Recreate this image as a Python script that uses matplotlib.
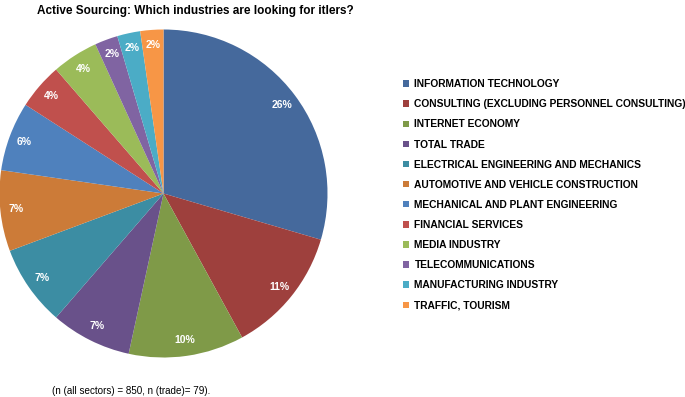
import matplotlib
matplotlib.use("Agg")
import matplotlib.pyplot as plt
import numpy as np

categories = [
    "INFORMATION TECHNOLOGY",
    "CONSULTING (EXCLUDING PERSONNEL CONSULTING)",
    "INTERNET ECONOMY",
    "TOTAL TRADE",
    "ELECTRICAL ENGINEERING AND MECHANICS",
    "AUTOMOTIVE AND VEHICLE CONSTRUCTION",
    "MECHANICAL AND PLANT ENGINEERING",
    "FINANCIAL SERVICES",
    "MEDIA INDUSTRY",
    "TELECOMMUNICATIONS",
    "MANUFACTURING INDUSTRY",
    "TRAFFIC, TOURISM",
]
values = [26, 11, 10, 7, 7, 7, 6, 4, 4, 2, 2, 2]
pct_labels = ["26%", "11%", "10%", "7%", "7%", "7%", "6%", "4%", "4%", "2%", "2%", "2%"]
colors = ["#45699C", "#9E403D", "#7F9A48", "#69518A", "#3C8DA3", "#CC7B38",
          "#4F81BD", "#C0504D", "#9BBB59", "#8064A2", "#4BACC6", "#F79646"]

title = "Active Sourcing: Which industries are looking for itlers?"
note = "(n (all sectors) = 850, n (trade)= 79)."

W, H = 685, 397
fig = plt.figure(figsize=(W / 100, H / 100), dpi=100)
fig.patch.set_facecolor("white")

cx, cy, r = 163.5, 193.5, 164
ax = fig.add_axes([(cx - r) / W, (H - cy - r) / H, 2 * r / W, 2 * r / H])
wedges, _ = ax.pie(values, colors=colors, startangle=90, counterclock=False,
                   radius=1, wedgeprops=dict(linewidth=0))
ax.set_xlim(-1, 1)
ax.set_ylim(-1, 1)
ax.set_aspect("equal")
ax.axis("off")

tot = sum(values)
ang = 90.0
for v, lab in zip(values, pct_labels):
    span = 360.0 * v / tot
    mid = np.deg2rad(ang - span / 2)
    ang -= span
    ax.text(0.905 * np.cos(mid), 0.905 * np.sin(mid), lab, ha="center", va="center",
            color="white", fontsize=7.5, fontweight="bold", family="Liberation Sans")

fig.text(37 / W, 1 - 11 / H, title, ha="left", va="center", fontsize=8.5,
         fontweight="bold", family="Liberation Sans")

leg = fig.legend(wedges, categories, loc="upper left",
                 bbox_to_anchor=(394 / W, 1 - 70 / H), frameon=False,
                 handlelength=0.6, handleheight=0.6, handletextpad=0.5,
                 labelspacing=0.99,
                 prop=dict(family="Liberation Sans", weight="bold", size=7.35))

fig.text(52 / W, 1 - 391 / H, note, ha="left", va="center", fontsize=7.1,
         family="Liberation Sans")

fig.savefig("out.png", dpi=100, facecolor="white")
